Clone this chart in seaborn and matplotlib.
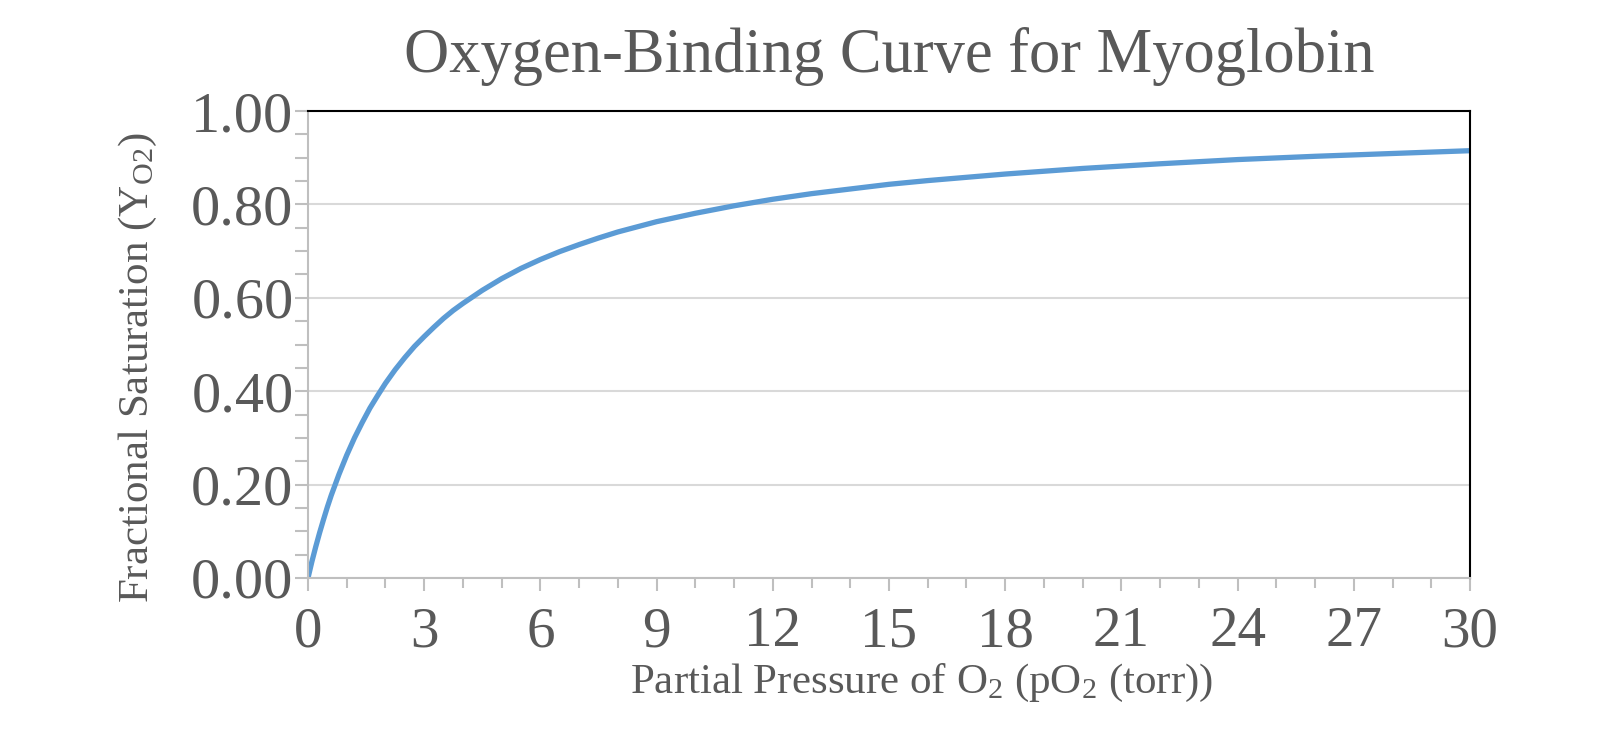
import seaborn as sns
import matplotlib.pyplot as plt
from matplotlib.ticker import MultipleLocator
import pandas as pd

# values
po2 = [0, 0.1, 0.2, 0.3, 0.4, 0.5, 0.6, 0.8, 1.0, 1.2, 1.4, 1.6, 1.8, 2.0,
       2.25, 2.5, 2.75, 3.0, 3.25, 3.5, 3.75, 4.0, 4.5, 5, 5.5, 6, 6.5, 7,
       7.5, 8, 9, 10, 11, 12, 13, 14, 15, 16, 18, 20, 22, 24, 26, 28, 30]
saturation = [0.0, 0.035, 0.067, 0.097, 0.125, 0.152, 0.177, 0.222, 0.263,
              0.300, 0.333, 0.364, 0.391, 0.417, 0.446, 0.472, 0.496, 0.517,
              0.537, 0.556, 0.573, 0.588, 0.616, 0.641, 0.663, 0.682, 0.699,
              0.714, 0.728, 0.741, 0.763, 0.781, 0.797, 0.811, 0.823, 0.833,
              0.843, 0.851, 0.865, 0.877, 0.887, 0.896, 0.903, 0.909, 0.915]
x_ticks = [0, 3, 6, 9, 12, 15, 18, 21, 24, 27, 30]
y_ticks = [0.0, 0.2, 0.4, 0.6, 0.8, 1.0]

df = pd.DataFrame({'pO2': po2, 'Y': saturation})

sns.set_style('white')
plt.rcParams['font.family'] = ['Liberation Serif', 'DejaVu Serif']
plt.rcParams['mathtext.fontset'] = 'custom'
plt.rcParams['mathtext.rm'] = 'Liberation Serif'
plt.rcParams['mathtext.it'] = 'Liberation Serif:italic'

txt = '#595959'
grid = '#d9d9d9'

fig = plt.figure(figsize=(16.1, 7.42), dpi=100)
ax = fig.add_axes([308 / 1610, 1 - 578 / 742, (1470 - 308) / 1610, (578 - 111) / 742])

sns.lineplot(data=df, x='pO2', y='Y', ax=ax, color='#5b9bd5', linewidth=3.8)

ax.set_xlim(0, 30)
ax.set_ylim(0, 1)
ax.set_xticks(x_ticks)
ax.set_yticks(y_ticks)
ax.set_yticklabels([f'{v:.2f}' for v in y_ticks])
ax.xaxis.set_minor_locator(MultipleLocator(1))
ax.yaxis.set_minor_locator(MultipleLocator(0.05))
ax.yaxis.grid(True, color=grid, linewidth=1.5)
ax.set_axisbelow(True)

for s in ['left', 'bottom']:
    ax.spines[s].set_color('#bfbfbf')
    ax.spines[s].set_linewidth(1.5)
for s in ['top', 'right']:
    ax.spines[s].set_color('black')
    ax.spines[s].set_linewidth(1.5)

ax.tick_params(axis='both', which='both', direction='out', color='#bfbfbf', width=1.5,
               bottom=True, left=True)
ax.tick_params(axis='x', which='major', length=9.4, labelsize=41, labelcolor=txt, pad=11)
ax.tick_params(axis='x', which='minor', length=7.2)
ax.tick_params(axis='y', which='both', length=9.4, labelsize=42, labelcolor=txt, pad=1)

ax.set_xlabel(r'Partial Pressure of O$_2$ (pO$_2$ (torr))', fontsize=31, color=txt)
ax.set_ylabel(r'Fractional Saturation (Y$_{\mathrm{O2}}$)', fontsize=31, color=txt)
ax.xaxis.set_label_coords(0.528, -0.18)
ax.yaxis.set_label_coords(-0.128, 0.45)
ax.set_title('Oxygen-Binding Curve for Myoglobin', fontsize=45, color=txt, pad=28)

plt.savefig('out.png', dpi=100)
